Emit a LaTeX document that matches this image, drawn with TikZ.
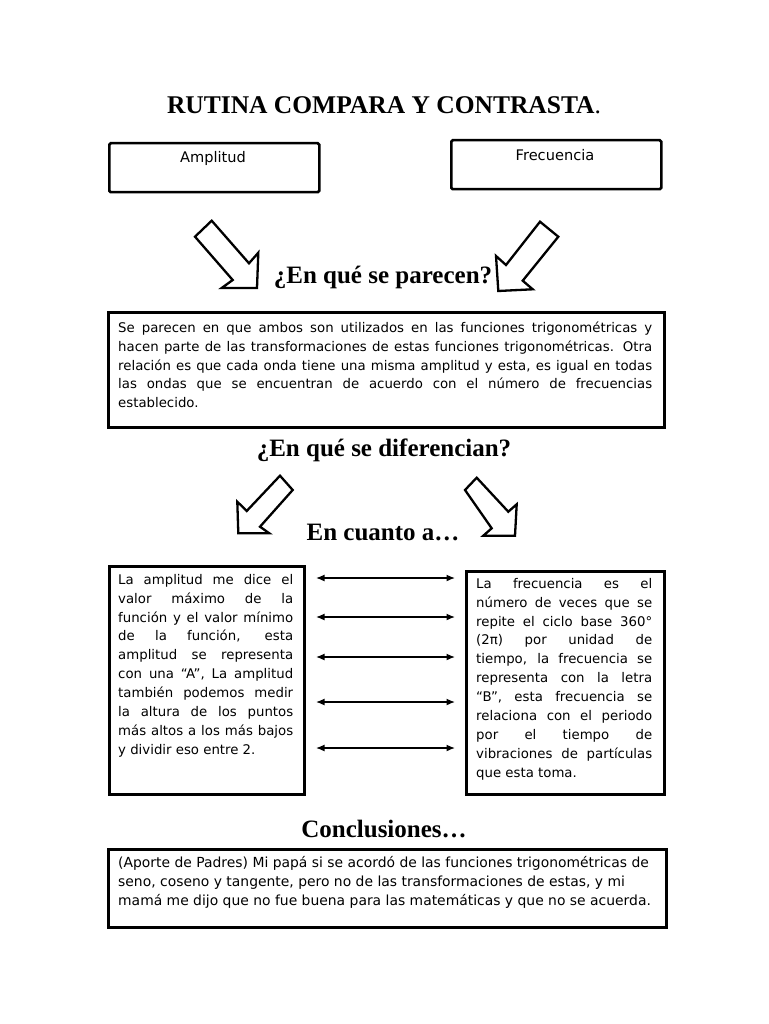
\documentclass[tikz,border=0pt]{standalone}
\usepackage{fontspec}
\setmainfont{Liberation Serif}
\newfontfamily\bodyfont{DejaVu Sans}
\usetikzlibrary{arrows.meta}
\begin{document}
\begin{tikzpicture}[x=1pt,y=-1pt,
  hd/.style={font=\fontsize{25}{30}\selectfont\bfseries, anchor=base, inner sep=0pt},
  smallbox/.style={draw, line width=2.5pt, rounded corners=1.5pt, minimum width=210pt, minimum height=49pt, anchor=north west, inner sep=0pt},
  bigbox/.style={draw, line width=3pt, anchor=north west, inner sep=0pt},
  label/.style={font=\bodyfont\fontsize{14.6}{16}\selectfont, anchor=base, inner sep=0pt},
  body/.style={font=\bodyfont\fontsize{13.3}{18.9}\selectfont, anchor=north west, inner sep=0pt, align=justify},
  concl/.style={font=\bodyfont\fontsize{13.9}{19}\selectfont, anchor=north west, inner sep=0pt, align=left},
  blockarrow/.style={draw, line width=2.3pt, fill=white, line join=miter},
  dbl/.style={{Latex[length=8.5pt,width=7pt]}-{Latex[length=8.5pt,width=7pt]}, line width=1.4pt}
]
\useasboundingbox (0,0) rectangle (768,1024);
\fill[white] (0,0) rectangle (768,1024);

% title
\node[hd, font=\fontsize{25.5}{30}\selectfont\bfseries] (title) at (384,114) {RUTINA COMPARA Y CONTRASTA\textmd{.}};

% top boxes
\node[smallbox] (amp) at (108,142) {};
\node[label] (ampt) at (213,163) {Amplitud};
\node[smallbox] (fre) at (450,139) {};
\node[label] (fret) at (555,161) {Frecuencia};

% block arrows (first pair)
\path[blockarrow] (211.7,220.7) -- (249,263.3) -- (258.3,252.7) -- (257,288) -- (221.7,288) -- (232.7,280) -- (195,236.7) -- cycle;
\path[blockarrow] (540,221.7) -- (558.3,236.7) -- (522.7,280.7) -- (532.7,289.3) -- (498.3,291) -- (496,256) -- (506,265) -- cycle;

\node[hd] (h1) at (383,283) {¿En qué se parecen?};

% similarity box
\node[bigbox, minimum width=556pt, minimum height=115pt] (sim) at (107,311) {};
\node[body, text width=534pt] (simt) at (118,321) {\rule{0pt}{11pt}Se parecen en que ambos son utilizados en las funciones trigonométricas y\linebreak hacen parte de las transformaciones de estas funciones trigonométricas. Otra\linebreak relación es que cada onda tiene una misma amplitud y esta, es igual en todas\linebreak las ondas que se encuentran de acuerdo con el número de frecuencias\linebreak establecido.};

\node[hd] (h2) at (384,456) {¿En qué se diferencian?};

% block arrows (second pair)
\path[blockarrow] (280,475.7) -- (246.7,511) -- (237.3,501.7) -- (238.3,533.3) -- (269.3,533.3) -- (260,526.7) -- (292.7,490) -- cycle;
\path[blockarrow] (476.7,477.7) -- (508.3,511.7) -- (516.7,504.3) -- (515,535.7) -- (483.3,535.7) -- (491.7,528.3) -- (465,490) -- cycle;

\node[hd] (h3) at (383,540) {En cuanto a…};

% difference boxes
\node[bigbox, minimum width=195pt, minimum height=228pt] (lbox) at (108,565) {};
\node[body, text width=175pt] (lboxt) at (118,573) {\rule{0pt}{11pt}La amplitud me dice el\linebreak valor máximo de la\linebreak función y el valor mínimo\linebreak de la función, esta\linebreak amplitud se representa\linebreak con una “A”, La amplitud\linebreak también podemos medir\linebreak la altura de los puntos\linebreak más altos a los más bajos\linebreak y dividir eso entre 2.};

\node[bigbox, minimum width=198pt, minimum height=223pt] (rbox) at (465,570) {};
\node[body, text width=176pt] (rboxt) at (476,577) {\rule{0pt}{11pt}La frecuencia es el\linebreak número de veces que se\linebreak repite el ciclo base 360°\linebreak (2π) por unidad de\linebreak tiempo, la frecuencia se\linebreak representa con la letra\linebreak “B”, esta frecuencia se\linebreak relaciona con el periodo\linebreak por el tiempo de\linebreak vibraciones de partículas\linebreak que esta toma.};

% double arrows
\coordinate (r1) at (0,578);
\coordinate (r2) at (0,617);
\coordinate (r3) at (0,657);
\coordinate (r4) at (0,702);
\coordinate (r5) at (0,748);
\foreach \r in {r1,r2,r3,r4,r5}{
  \draw[dbl, shorten <=10pt, shorten >=10pt] (lbox.east |- \r) -- (rbox.west |- \r);
}

\node[hd] (h4) at (384,837) {Conclusiones…};

\node[bigbox, minimum width=558pt, minimum height=78pt] (cbox) at (107,848) {};
\node[concl] (cboxt) at (118,856) {\rule{0pt}{11pt}(Aporte de Padres) Mi papá si se acordó de las funciones trigonométricas de\\ seno, coseno y tangente, pero no de las transformaciones de estas, y mi\\ mamá me dijo que no fue buena para las matemáticas y que no se acuerda.};
\end{tikzpicture}
\end{document}
